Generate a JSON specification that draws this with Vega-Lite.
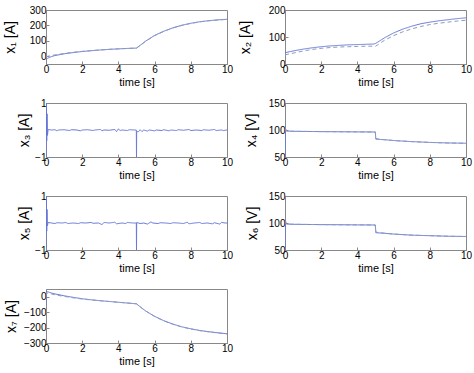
{
"$schema":"https://vega.github.io/schema/vega-lite/v6.json",
"autosize":"pad",
"padding":{"left":2,"top":4,"right":5,"bottom":5},
"background":"white",
"data":{"values":[
{"p":"x1","t":0,"a":-21,"b":-4},{"p":"x1","t":0.1,"a":-12,"b":0},{"p":"x1","t":0.3,"a":-2,"b":5},{"p":"x1","t":0.5,"a":5,"b":9},{"p":"x1","t":1,"a":16,"b":18},{"p":"x1","t":1.5,"a":24,"b":26},{"p":"x1","t":2,"a":31,"b":32},{"p":"x1","t":2.5,"a":36,"b":37},{"p":"x1","t":3,"a":41,"b":41},{"p":"x1","t":3.5,"a":45,"b":45},{"p":"x1","t":4,"a":48,"b":48},{"p":"x1","t":4.5,"a":51,"b":51},{"p":"x1","t":5,"a":53,"b":53},{"p":"x1","t":5.25,"a":75,"b":74},{"p":"x1","t":5.5,"a":98,"b":97},{"p":"x1","t":6,"a":135,"b":134},{"p":"x1","t":6.5,"a":162,"b":161},{"p":"x1","t":7,"a":184,"b":183},{"p":"x1","t":7.5,"a":201,"b":200},{"p":"x1","t":8,"a":214,"b":213},{"p":"x1","t":8.5,"a":224,"b":223},{"p":"x1","t":9,"a":231,"b":230},{"p":"x1","t":9.5,"a":236,"b":235},{"p":"x1","t":10,"a":240,"b":239},
{"p":"x2","t":0,"a":42,"b":34},{"p":"x2","t":0.3,"a":46,"b":38},{"p":"x2","t":0.5,"a":49,"b":41},{"p":"x2","t":1,"a":55,"b":48},{"p":"x2","t":1.5,"a":60,"b":54},{"p":"x2","t":2,"a":64,"b":58},{"p":"x2","t":2.5,"a":67,"b":61},{"p":"x2","t":3,"a":69,"b":63},{"p":"x2","t":3.5,"a":71,"b":64},{"p":"x2","t":4,"a":72,"b":65},{"p":"x2","t":4.5,"a":73,"b":66},{"p":"x2","t":4.9,"a":74,"b":66},{"p":"x2","t":5,"a":76,"b":66},{"p":"x2","t":5.1,"a":80,"b":70},{"p":"x2","t":5.5,"a":97,"b":88},{"p":"x2","t":6,"a":115,"b":105},{"p":"x2","t":6.5,"a":129,"b":119},{"p":"x2","t":7,"a":140,"b":130},{"p":"x2","t":7.5,"a":149,"b":139},{"p":"x2","t":8,"a":155,"b":146},{"p":"x2","t":8.5,"a":160,"b":151},{"p":"x2","t":9,"a":164,"b":155},{"p":"x2","t":9.5,"a":168,"b":159},{"p":"x2","t":10,"a":171,"b":162},
{"p":"x3","t":0,"a":-1,"b":0},{"p":"x3","t":0.02,"a":1},{"p":"x3","t":0.04,"a":-0.4},{"p":"x3","t":0.06,"a":0.6},{"p":"x3","t":0.08,"a":-0.2},{"p":"x3","t":0.12,"a":0.02},{"p":"x3","t":0.3,"a":0},{"p":"x3","t":0.5,"a":0.01},{"p":"x3","t":0.6,"a":-0.03},{"p":"x3","t":0.7,"a":0},{"p":"x3","t":1.0,"a":0.01},{"p":"x3","t":1.3,"a":-0.02},{"p":"x3","t":1.4,"a":0.01},{"p":"x3","t":1.7,"a":0},{"p":"x3","t":1.9,"a":-0.03},{"p":"x3","t":2.0,"a":0},{"p":"x3","t":2.3,"a":0.01},{"p":"x3","t":2.6,"a":-0.02},{"p":"x3","t":2.7,"a":0},{"p":"x3","t":3.0,"a":0.02},{"p":"x3","t":3.1,"a":-0.03},{"p":"x3","t":3.2,"a":0},{"p":"x3","t":3.5,"a":-0.01},{"p":"x3","t":3.8,"a":0.02},{"p":"x3","t":3.9,"a":-0.06},{"p":"x3","t":4,"a":0.04},{"p":"x3","t":4.1,"a":-0.02},{"p":"x3","t":4.2,"a":0},{"p":"x3","t":4.5,"a":-0.02},{"p":"x3","t":4.6,"a":0.01},{"p":"x3","t":4.9,"a":0},{"p":"x3","t":4.99,"a":0},{"p":"x3","t":5,"a":-1,"b":0},{"p":"x3","t":5.01,"a":-0.05},{"p":"x3","t":5.1,"a":-0.07},{"p":"x3","t":5.2,"a":0.01},{"p":"x3","t":5.3,"a":-0.06},{"p":"x3","t":5.4,"a":0},{"p":"x3","t":5.6,"a":-0.04},{"p":"x3","t":5.7,"a":0},{"p":"x3","t":6.0,"a":-0.03},{"p":"x3","t":6.1,"a":0},{"p":"x3","t":6.4,"a":-0.02},{"p":"x3","t":6.5,"a":0.01},{"p":"x3","t":6.8,"a":-0.03},{"p":"x3","t":6.9,"a":0},{"p":"x3","t":7.2,"a":-0.02},{"p":"x3","t":7.3,"a":0.01},{"p":"x3","t":7.6,"a":-0.01},{"p":"x3","t":7.9,"a":0.02},{"p":"x3","t":8.0,"a":-0.02},{"p":"x3","t":8.3,"a":0},{"p":"x3","t":8.6,"a":-0.02},{"p":"x3","t":8.7,"a":0.01},{"p":"x3","t":9.0,"a":-0.01},{"p":"x3","t":9.3,"a":0.02},{"p":"x3","t":9.4,"a":-0.02},{"p":"x3","t":9.7,"a":0},{"p":"x3","t":9.8,"a":-0.02},{"p":"x3","t":10,"a":0,"b":0},
{"p":"x4","t":0,"a":50,"b":103},{"p":"x4","t":0.02,"a":103,"b":100},{"p":"x4","t":0.1,"a":98,"b":98},{"p":"x4","t":0.5,"a":97.6,"b":97.6},{"p":"x4","t":2,"a":97,"b":97},{"p":"x4","t":4,"a":96.5,"b":96.5},{"p":"x4","t":4.99,"a":96.3,"b":96.3},{"p":"x4","t":5.02,"a":83,"b":84},{"p":"x4","t":5.5,"a":82,"b":82},{"p":"x4","t":6,"a":80.5,"b":80.5},{"p":"x4","t":7,"a":78.5,"b":78.5},{"p":"x4","t":8,"a":77,"b":77},{"p":"x4","t":9,"a":76,"b":76},{"p":"x4","t":10,"a":75.5,"b":75.5},
{"p":"x5","t":0,"a":-1,"b":0},{"p":"x5","t":0.02,"a":1},{"p":"x5","t":0.04,"a":-0.3},{"p":"x5","t":0.06,"a":0.5},{"p":"x5","t":0.08,"a":-0.1},{"p":"x5","t":0.12,"a":0.02},{"p":"x5","t":0.3,"a":0},{"p":"x5","t":0.5,"a":-0.02},{"p":"x5","t":0.6,"a":0.01},{"p":"x5","t":0.9,"a":0},{"p":"x5","t":1.1,"a":0.02},{"p":"x5","t":1.2,"a":-0.02},{"p":"x5","t":1.5,"a":0},{"p":"x5","t":1.8,"a":-0.02},{"p":"x5","t":1.9,"a":0.01},{"p":"x5","t":2.2,"a":0},{"p":"x5","t":2.5,"a":0.02},{"p":"x5","t":2.6,"a":-0.01},{"p":"x5","t":2.9,"a":0},{"p":"x5","t":3.1,"a":-0.06},{"p":"x5","t":3.2,"a":0.02},{"p":"x5","t":3.5,"a":0},{"p":"x5","t":3.8,"a":0.03},{"p":"x5","t":3.9,"a":-0.03},{"p":"x5","t":4.2,"a":0},{"p":"x5","t":4.4,"a":-0.02},{"p":"x5","t":4.5,"a":0.02},{"p":"x5","t":4.8,"a":0},{"p":"x5","t":4.99,"a":0},{"p":"x5","t":5,"a":-1,"b":0},{"p":"x5","t":5.01,"a":0.02},{"p":"x5","t":5.2,"a":-0.02},{"p":"x5","t":5.4,"a":0},{"p":"x5","t":5.6,"a":-0.04},{"p":"x5","t":5.8,"a":0.04},{"p":"x5","t":5.9,"a":0},{"p":"x5","t":6.2,"a":-0.02},{"p":"x5","t":6.3,"a":0.01},{"p":"x5","t":6.6,"a":0},{"p":"x5","t":6.9,"a":-0.02},{"p":"x5","t":7,"a":0.01},{"p":"x5","t":7.3,"a":0},{"p":"x5","t":7.6,"a":-0.02},{"p":"x5","t":7.8,"a":0.03},{"p":"x5","t":7.9,"a":-0.03},{"p":"x5","t":8.2,"a":0},{"p":"x5","t":8.5,"a":0.02},{"p":"x5","t":8.6,"a":-0.02},{"p":"x5","t":8.9,"a":0},{"p":"x5","t":9.2,"a":-0.03},{"p":"x5","t":9.3,"a":0.01},{"p":"x5","t":9.6,"a":-0.04},{"p":"x5","t":9.7,"a":0.02},{"p":"x5","t":9.9,"a":0},{"p":"x5","t":10,"a":0,"b":0},
{"p":"x6","t":0,"a":50,"b":104},{"p":"x6","t":0.02,"a":104,"b":100},{"p":"x6","t":0.1,"a":98,"b":98},{"p":"x6","t":0.5,"a":97.6,"b":97.6},{"p":"x6","t":2,"a":97,"b":97},{"p":"x6","t":4,"a":96.5,"b":96.5},{"p":"x6","t":4.99,"a":96.3,"b":96.3},{"p":"x6","t":5.02,"a":82,"b":83},{"p":"x6","t":5.5,"a":81,"b":81},{"p":"x6","t":6,"a":79.5,"b":79.5},{"p":"x6","t":7,"a":77.5,"b":77.5},{"p":"x6","t":8,"a":76.5,"b":76.5},{"p":"x6","t":9,"a":75.5,"b":75.5},{"p":"x6","t":10,"a":75,"b":75},
{"p":"x7","t":0,"a":-55,"b":10},{"p":"x7","t":0.02,"a":35,"b":25},{"p":"x7","t":0.3,"a":24,"b":18},{"p":"x7","t":0.5,"a":18,"b":12},{"p":"x7","t":1,"a":6,"b":2},{"p":"x7","t":1.5,"a":-4,"b":-7},{"p":"x7","t":2,"a":-13,"b":-15},{"p":"x7","t":2.5,"a":-20,"b":-21},{"p":"x7","t":3,"a":-26,"b":-26},{"p":"x7","t":3.5,"a":-31,"b":-31},{"p":"x7","t":4,"a":-36,"b":-36},{"p":"x7","t":4.5,"a":-41,"b":-41},{"p":"x7","t":5,"a":-46,"b":-46},{"p":"x7","t":5.25,"a":-70,"b":-70},{"p":"x7","t":5.5,"a":-92,"b":-92},{"p":"x7","t":6,"a":-127,"b":-128},{"p":"x7","t":6.5,"a":-155,"b":-156},{"p":"x7","t":7,"a":-177,"b":-178},{"p":"x7","t":7.5,"a":-195,"b":-196},{"p":"x7","t":8,"a":-208,"b":-209},{"p":"x7","t":8.5,"a":-219,"b":-220},{"p":"x7","t":9,"a":-227,"b":-228},{"p":"x7","t":9.5,"a":-234,"b":-235},{"p":"x7","t":10,"a":-240,"b":-241}
]},
"columns":2,
"spacing":{"column":58,"row":39},
"bounds":"flush",
"concat":[
{"width":181,"height":54,"transform":[{"filter":"datum.p==='x1'"},{"fold":["a","b"],"as":["s","v"]}],"mark":{"type":"line","strokeWidth":1,"clip":true},
 "encoding":{"x":{"field":"t","type":"quantitative","scale":{"domain":[0,10]},"axis":{"title":"time [s]","values":[0,2,4,6,8,10]}},
 "y":{"field":"v","type":"quantitative","scale":{"domain":[-50,300]},"axis":{"title":"x₁ [A]","values":[0,100,200,300],"titlePadding":12}},
 "color":{"field":"s","type":"nominal","scale":{"domain":["a","b"],"range":["#6677d8","#8c9bb8"]},"legend":null},
 "strokeDash":{"field":"s","type":"nominal","scale":{"domain":["a","b"],"range":[[1,0],[4,3]]},"legend":null}}},
{"width":181,"height":54,"transform":[{"filter":"datum.p==='x2'"},{"fold":["a","b"],"as":["s","v"]}],"mark":{"type":"line","strokeWidth":1,"clip":true},
 "encoding":{"x":{"field":"t","type":"quantitative","scale":{"domain":[0,10]},"axis":{"title":"time [s]","values":[0,2,4,6,8,10]}},
 "y":{"field":"v","type":"quantitative","scale":{"domain":[0,200]},"axis":{"title":"x₂ [A]","values":[0,100,200],"titlePadding":16}},
 "color":{"field":"s","type":"nominal","scale":{"domain":["a","b"],"range":["#6677d8","#8c9bb8"]},"legend":null},
 "strokeDash":{"field":"s","type":"nominal","scale":{"domain":["a","b"],"range":[[1,0],[4,3]]},"legend":null}}},
{"width":181,"height":54,"transform":[{"filter":"datum.p==='x3'"},{"fold":["a","b"],"as":["s","v"]}],"mark":{"type":"line","strokeWidth":1,"clip":true},
 "encoding":{"x":{"field":"t","type":"quantitative","scale":{"domain":[0,10]},"axis":{"title":"time [s]","values":[0,2,4,6,8,10]}},
 "y":{"field":"v","type":"quantitative","scale":{"domain":[-1,1]},"axis":{"title":"x₃ [A]","values":[-1,0,1],"format":"d","titlePadding":3}},
 "color":{"field":"s","type":"nominal","scale":{"domain":["a","b"],"range":["#6677d8","#8c9bb8"]},"legend":null},
 "strokeDash":{"field":"s","type":"nominal","scale":{"domain":["a","b"],"range":[[1,0],[4,3]]},"legend":null}}},
{"width":181,"height":54,"transform":[{"filter":"datum.p==='x4'"},{"fold":["a","b"],"as":["s","v"]}],"mark":{"type":"line","strokeWidth":1,"clip":true},
 "encoding":{"x":{"field":"t","type":"quantitative","scale":{"domain":[0,10]},"axis":{"title":"time [s]","values":[0,2,4,6,8,10]}},
 "y":{"field":"v","type":"quantitative","scale":{"domain":[50,150]},"axis":{"title":"x₄ [V]","values":[50,100,150],"titlePadding":10}},
 "color":{"field":"s","type":"nominal","scale":{"domain":["a","b"],"range":["#6677d8","#8c9bb8"]},"legend":null},
 "strokeDash":{"field":"s","type":"nominal","scale":{"domain":["a","b"],"range":[[1,0],[4,3]]},"legend":null}}},
{"width":181,"height":54,"transform":[{"filter":"datum.p==='x5'"},{"fold":["a","b"],"as":["s","v"]}],"mark":{"type":"line","strokeWidth":1,"clip":true},
 "encoding":{"x":{"field":"t","type":"quantitative","scale":{"domain":[0,10]},"axis":{"title":"time [s]","values":[0,2,4,6,8,10]}},
 "y":{"field":"v","type":"quantitative","scale":{"domain":[-1,1]},"axis":{"title":"x₅ [A]","values":[-1,0,1],"format":"d","titlePadding":3}},
 "color":{"field":"s","type":"nominal","scale":{"domain":["a","b"],"range":["#6677d8","#8c9bb8"]},"legend":null},
 "strokeDash":{"field":"s","type":"nominal","scale":{"domain":["a","b"],"range":[[1,0],[4,3]]},"legend":null}}},
{"width":181,"height":54,"transform":[{"filter":"datum.p==='x6'"},{"fold":["a","b"],"as":["s","v"]}],"mark":{"type":"line","strokeWidth":1,"clip":true},
 "encoding":{"x":{"field":"t","type":"quantitative","scale":{"domain":[0,10]},"axis":{"title":"time [s]","values":[0,2,4,6,8,10]}},
 "y":{"field":"v","type":"quantitative","scale":{"domain":[50,150]},"axis":{"title":"x₆ [V]","values":[50,100,150],"titlePadding":9}},
 "color":{"field":"s","type":"nominal","scale":{"domain":["a","b"],"range":["#6677d8","#8c9bb8"]},"legend":null},
 "strokeDash":{"field":"s","type":"nominal","scale":{"domain":["a","b"],"range":[[1,0],[4,3]]},"legend":null}}},
{"width":181,"height":54,"transform":[{"filter":"datum.p==='x7'"},{"fold":["a","b"],"as":["s","v"]}],"mark":{"type":"line","strokeWidth":1,"clip":true},
 "encoding":{"x":{"field":"t","type":"quantitative","scale":{"domain":[0,10]},"axis":{"title":"time [s]","values":[0,2,4,6,8,10]}},
 "y":{"field":"v","type":"quantitative","scale":{"domain":[-300,50]},"axis":{"title":"x₇ [A]","values":[-300,-200,-100,0],"titlePadding":5}},
 "color":{"field":"s","type":"nominal","scale":{"domain":["a","b"],"range":["#6677d8","#8c9bb8"]},"legend":null},
 "strokeDash":{"field":"s","type":"nominal","scale":{"domain":["a","b"],"range":[[1,0],[4,3]]},"legend":null}}}
],
"resolve":{"scale":{"color":"shared","strokeDash":"shared"}},
"config":{
 "view":{"stroke":"#888","strokeWidth":1},
 "axis":{"labelFont":"Liberation Sans","titleFont":"Liberation Sans","labelFontSize":10,"titleFontSize":11,"titleFontWeight":"normal","grid":false,"tickSize":-3,"domainColor":"#888","tickColor":"#888","labelColor":"#000","titleColor":"#000","labelPadding":3,"labelFlush":false,"labelOverlap":false},
 "axisX":{"titlePadding":2},
 "axisY":{"titleFontSize":14}
}
}
